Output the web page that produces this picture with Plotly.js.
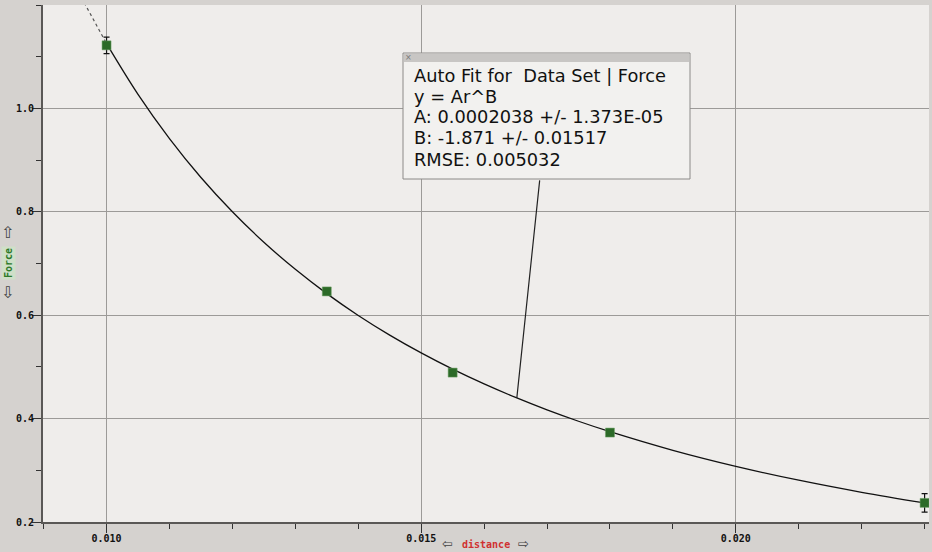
<!DOCTYPE html>
<html>
<head>
<meta charset="utf-8">
<script src="https://cdn.plot.ly/plotly-3.0.1.min.js"></script>
<style>html,body{margin:0;padding:0;background:#d5d2cf;}#chart{width:932px;height:552px;}</style>
</head>
<body>
<div id="chart"></div>
<script>
// Measured data points
const distance = [0.0100, 0.0135, 0.0155, 0.0180, 0.0230];
const force = [1.122, 0.646, 0.489, 0.373, 0.237];
const forceErr = [0.016, 0, 0, 0, 0.018];

// Fit curve (y = A r^B) values
const fitDistance = [0.0100, 0.0105, 0.0110, 0.0115, 0.0120, 0.0125, 0.0130, 0.0135, 0.0140, 0.0145, 0.0150, 0.0155, 0.0160, 0.0165, 0.0170, 0.0175, 0.0180, 0.0190, 0.0200, 0.0210, 0.0220, 0.0230];
const fitForce = [1.1252, 1.0271, 0.9415, 0.8663, 0.8000, 0.7411, 0.6887, 0.6417, 0.5995, 0.5615, 0.5270, 0.4956, 0.4671, 0.4409, 0.4169, 0.3949, 0.3747, 0.3386, 0.3076, 0.2808, 0.2574, 0.2369];

// Dotted extrapolation above the first point
const extDistance = [0.0096, 0.0098, 0.0100];
const extForce = [1.2146, 1.1686, 1.1252];

// Tick labels
const xTickVals = [0.010, 0.015, 0.020];
const xTickText = ['0.010', '0.015', '0.020'];
const yTickVals = [0.2, 0.4, 0.6, 0.8, 1.0];
const yTickText = ['0.2', '0.4', '0.6', '0.8', '1.0'];

// Fit box text
const fitLines = ['Auto Fit for\u00a0 Data Set | Force', 'y = Ar^B', 'A: 0.0002038 +/- 1.373E-05', 'B: -1.871 +/- 0.01517', 'RMSE: 0.005032'];
const leaderPoint = {x: 0.01652, y: 0.440};

const monoFont = {family: 'DejaVu Sans Mono', size: 10, color: '#111', weight: 'bold'};

const traces = [
  {x: extDistance, y: extForce, type: 'scatter', mode: 'lines',
   line: {color: '#555', width: 1.2, dash: 'dot'}, hoverinfo: 'skip'},
  {x: fitDistance, y: fitForce, type: 'scatter', mode: 'lines', line: {color: '#111', width: 1.3, shape: 'spline'}, hoverinfo: 'skip'},
  {x: distance, y: force, type: 'scatter', mode: 'markers',
   marker: {symbol: 'square', size: 9, color: '#2c6a28', line: {color: '#6fa066', width: 0.5}},
   error_y: {type: 'data', array: forceErr, visible: true, color: '#111', thickness: 1.2, width: 3}}
];

const W = 932, H = 552, L = 43, R = 3, T = 5, B = 30;
const pw = W - L - R, ph = H - T - B;
const px = v => (v - L) / pw;
const py = v => (H - B - v) / ph;

const lineY = [75, 96, 117, 138, 159];
const boxText = fitLines.map((t, i) => ({
  xref: 'paper', yref: 'paper', x: px(412), y: py(lineY[i]), xanchor: 'left', yanchor: 'middle',
  text: t, showarrow: false, font: {family: 'DejaVu Sans', size: 17.8, color: '#111'}
}));

const layout = {
  width: W, height: H,
  paper_bgcolor: '#d5d2cf',
  plot_bgcolor: '#efedeb',
  showlegend: false,
  margin: {l: L, r: R, t: T, b: B, pad: 0},
  xaxis: {
    range: [0.00899, 0.02307],
    tickvals: xTickVals, ticktext: xTickText,
    ticks: 'outside', ticklen: 9, tickwidth: 1, tickcolor: '#333', ticklabelstandoff: -3,
    minor: {dtick: 0.001, tick0: 0.009, ticks: 'outside', ticklen: 5, tickcolor: '#333', showgrid: false},
    showgrid: true, gridcolor: '#9c9a98', gridwidth: 1,
    showline: true, linecolor: '#5a5856', linewidth: 2,
    zeroline: false, tickfont: monoFont
  },
  yaxis: {
    range: [0.2, 1.2],
    tickvals: yTickVals, ticktext: yTickText,
    ticks: 'outside', ticklen: 9, tickwidth: 1, tickcolor: '#333', ticklabelstandoff: -4,
    minor: {dtick: 0.1, tick0: 0.1, ticks: 'outside', ticklen: 5, tickcolor: '#333', showgrid: false},
    showgrid: true, gridcolor: '#9c9a98', gridwidth: 1,
    showline: true, linecolor: '#5a5856', linewidth: 2,
    zeroline: false, tickfont: monoFont
  },
  shapes: [
    {type: 'rect', xref: 'paper', yref: 'paper', x0: px(403), x1: px(690), y0: py(179), y1: py(53),
     fillcolor: '#f2f1ef', line: {color: '#8c8a88', width: 1}, layer: 'above'},
    {type: 'rect', xref: 'paper', yref: 'paper', x0: px(404), x1: px(689), y0: py(62), y1: py(54),
     fillcolor: '#c8c6c4', line: {width: 0}, layer: 'above'}
  ],
  annotations: boxText.concat([
    {xref: 'paper', yref: 'paper', x: px(408), y: py(57.5), xanchor: 'center', yanchor: 'middle',
     text: '\u00d7', showarrow: false, font: {family: 'DejaVu Sans', size: 8, color: '#777'}},
    {x: leaderPoint.x, y: leaderPoint.y, ax: 23, ay: -219, text: '', showarrow: true,
     arrowhead: 0, arrowwidth: 1.2, arrowcolor: '#222', standoff: 0},
    // x-axis title
    {xref: 'paper', yref: 'paper', x: 0.5, y: py(544), xanchor: 'center', yanchor: 'middle',
     text: 'distance', showarrow: false, font: {family: 'DejaVu Sans Mono', size: 10, color: '#d03030', weight: 'bold'}},
    {xref: 'paper', yref: 'paper', x: px(447), y: py(543), xanchor: 'center', yanchor: 'middle',
     text: '\u21e6', showarrow: false, font: {family: 'DejaVu Sans', size: 13, color: '#444'}},
    {xref: 'paper', yref: 'paper', x: px(523), y: py(543), xanchor: 'center', yanchor: 'middle',
     text: '\u21e8', showarrow: false, font: {family: 'DejaVu Sans', size: 13, color: '#444'}},
    // y-axis title
    {xref: 'paper', yref: 'paper', x: px(8), y: py(263), xanchor: 'center', yanchor: 'middle', textangle: -90,
     text: 'Force', showarrow: false, bgcolor: '#cfe0c8', font: {family: 'DejaVu Sans Mono', size: 10, color: '#2e7a2a', weight: 'bold'}},
    {xref: 'paper', yref: 'paper', x: px(7), y: py(232), xanchor: 'center', yanchor: 'middle',
     text: '\u21e7', showarrow: false, font: {family: 'DejaVu Sans', size: 16, color: '#444'}},
    {xref: 'paper', yref: 'paper', x: px(7), y: py(292), xanchor: 'center', yanchor: 'middle',
     text: '\u21e9', showarrow: false, font: {family: 'DejaVu Sans', size: 16, color: '#444'}}
  ])
};

Plotly.newPlot('chart', traces, layout, {displayModeBar: false, staticPlot: true});
</script>
</body>
</html>
